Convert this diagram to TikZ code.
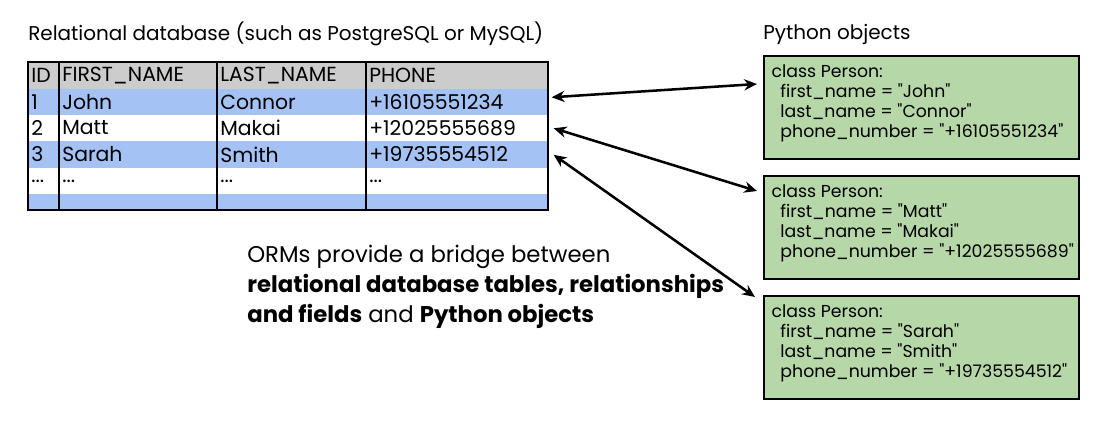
\documentclass[tikz,border=0pt]{standalone}
\usepackage{xcolor}
\usepackage{fontspec}
\setmainfont{Poppins}[Ligatures=TeXOff]
\usepackage{tikz}
\usetikzlibrary{positioning,arrows.meta,calc}
\definecolor{rowblue}{HTML}{A4C2F4}
\definecolor{headgray}{HTML}{CCCCCC}
\definecolor{objgreen}{HTML}{B6D7A8}
\newcommand\moredots{...}
\begin{document}
\begin{tikzpicture}[x=0.025cm,y=-0.025cm,row/.style={rectangle,minimum width=13cm,inner sep=0pt,anchor=north west},cell/.style={anchor=west,inner sep=0pt,font=\fontsize{14.5}{16}\selectfont},obj/.style={draw,line width=1.3pt,fill=objgreen,minimum width=7.875cm,minimum height=2.575cm,anchor=north west},objtext/.style={align=left,inner sep=0pt,font=\fontsize{12.3}{14.2}\selectfont},title/.style={anchor=west,inner sep=0pt,font=\fontsize{14.2}{16}\selectfont},arrow/.style={{Stealth[length=3.2mm,width=2.8mm]}-{Stealth[length=3.2mm,width=2.8mm]},line width=1.8pt}]
\useasboundingbox[fill=white] (0,0) rectangle (1113,430);
\node[title] (dbtitle) at (28,34) {Relational database (such as PostgreSQL or MySQL)};
\node[title] (pytitle) at (763,34) {Python objects};
\foreach \n/\y/\h/\c in {r0/62/27/headgray,r1/89/26/rowblue,r2/115/26/white,r3/141/27/rowblue,r4/168/26/white,r5/194/16/rowblue}
  \node[row,fill=\c,minimum height=\h*0.025cm] (\n) at (28,\y) {};
\foreach \x in {59,217,366} \draw[line width=1.1pt] (\x,62) -- (\x,210);
\draw[line width=1.4pt] (28,62) rectangle (548,210);
\foreach \r/\y/\a/\b/\c/\d in {0/75.5/ID/FIRST\_NAME/LAST\_NAME/PHONE,1/102/1/John/Connor/+16105551234,2/128/2/Matt/Makai/+12025555689,3/154.5/3/Sarah/Smith/+19735554512,4/181/\moredots/\moredots/\moredots/\moredots}{
  \node[cell] (id\r) at (31,\y) {\a};
  \node[cell] (first\r) at (62,\y) {\b};
  \node[cell] (last\r) at (220,\y) {\c};
  \node[cell] (phone\r) at (369,\y) {\d};
}
\node[obj] (john) at (763,55) {};
\node[objtext,below right=0.23cm and 0.21cm of john.north west] (johntxt) {class Person:\\\hspace*{0.22cm}first\_name = "John"\\\hspace*{0.22cm}last\_name = "Connor"\\\hspace*{0.22cm}phone\_number = "+16105551234"};
\node[obj] (matt) at (763,175) {};
\node[objtext,below right=0.23cm and 0.21cm of matt.north west] (matttxt) {class Person:\\\hspace*{0.22cm}first\_name = "Matt"\\\hspace*{0.22cm}last\_name = "Makai"\\\hspace*{0.22cm}phone\_number = "+12025555689"};
\node[obj] (sarah) at (763,295) {};
\node[objtext,below right=0.23cm and 0.21cm of sarah.north west] (sarahtxt) {class Person:\\\hspace*{0.22cm}first\_name = "Sarah"\\\hspace*{0.22cm}last\_name = "Smith"\\\hspace*{0.22cm}phone\_number = "+19735554512"};
\node[anchor=north west,align=left,inner sep=0pt,font=\fontsize{16.2}{21.3}\selectfont] (bridge) at (247,245) {ORMs provide a bridge between\\\textbf{relational database tables, relationships}\\\textbf{and fields} and \textbf{Python objects}};
\draw[arrow] ($(r1.east)+(3,-5)$) -- ($(john.north west)+(-6,29)$);
\draw[arrow] ($(r2.east)+(5,0)$) -- ($(matt.north west)+(-6,16)$);
\draw[arrow] ($(r3.east)+(5,0)$) -- ($(sarah.north west)+(-8,2)$);
\end{tikzpicture}
\end{document}
